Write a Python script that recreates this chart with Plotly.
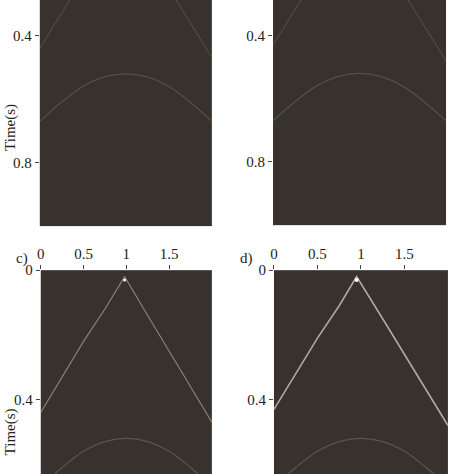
import plotly.graph_objects as go

# offsets (km) et temps (s)
offsets = [0, 0.25, 0.5, 0.75, 1.0, 1.25, 1.5, 1.75, 2.0]
direct_c_x = [0, 0.25, 0.5, 0.75, 0.98, 1.25, 1.5, 1.75, 2.0]
direct_c_t = [0.44, 0.33, 0.22, 0.12, 0.02, 0.14, 0.25, 0.36, 0.47]
direct_d_x = [0, 0.25, 0.5, 0.75, 0.95, 1.25, 1.5, 1.75, 2.0]
direct_d_t = [0.43, 0.32, 0.21, 0.11, 0.02, 0.15, 0.26, 0.37, 0.48]
reflect_t = [0.67, 0.61, 0.56, 0.53, 0.52, 0.53, 0.56, 0.61, 0.67]
xticks = [0, 0.5, 1, 1.5]

BG = "#38322e"
FONT = dict(family="Liberation Serif", size=15, color="#222")

fig = go.Figure()

panels = [
    # (xaxis, yaxis, dx, dt, couleur directe, largeur, couleur reflexion)
    ("x", "y", direct_c_x, direct_c_t, "rgba(95,90,82,0.8)", 1.0, "rgba(92,86,76,0.8)"),
    ("x2", "y2", direct_d_x, direct_d_t, "rgba(95,90,82,0.8)", 1.0, "rgba(92,86,76,0.8)"),
    ("x3", "y3", direct_c_x, direct_c_t, "rgba(160,155,145,0.75)", 1.2, "rgba(100,94,84,0.8)"),
    ("x4", "y4", direct_d_x, direct_d_t, "rgba(195,190,182,0.85)", 1.6, "rgba(100,94,84,0.8)"),
]
for xa, ya, dx, dt, cd, wd, cr in panels:
    fig.add_trace(go.Scatter(x=dx, y=dt, xaxis=xa, yaxis=ya, mode="lines",
                             line=dict(color=cd, width=wd), showlegend=False))
    fig.add_trace(go.Scatter(x=offsets, y=reflect_t, xaxis=xa, yaxis=ya, mode="lines",
                             line=dict(color=cr, width=1.2, shape="spline"), showlegend=False))

# petit point brillant a l'apex
fig.add_trace(go.Scatter(x=[direct_c_x[4]], y=[direct_c_t[4] + 0.01], xaxis="x3", yaxis="y3", mode="markers",
                         marker=dict(color="white", size=3), showlegend=False))
fig.add_trace(go.Scatter(x=[direct_d_x[4]], y=[direct_d_t[4] + 0.01], xaxis="x4", yaxis="y4", mode="markers",
                         marker=dict(color="white", size=4), showlegend=False))

xdom = [[0.084, 0.447], [0.576, 0.941], [0.086, 0.447], [0.578, 0.945]]
ydom = [[0.523, 1.0], [0.525, 1.0], [0.0, 0.430], [0.0, 0.430]]
yr = [[1.0, 0.2875], [1.0, 0.2875], [0.63, 0.0], [0.63, 0.0]]
layout = {}
for i in range(4):
    s = "" if i == 0 else str(i + 1)
    layout["xaxis" + s] = dict(domain=xdom[i], range=[0, 2.0], anchor="y" + s, side="top",
                               tickvals=xticks if i >= 2 else [], ticks="outside" if i >= 2 else "",
                               ticklen=4, showgrid=False, zeroline=False, tickfont=FONT, automargin=False)
    layout["yaxis" + s] = dict(domain=ydom[i], range=yr[i], anchor="x" + s,
                               tickvals=[0, 0.4, 0.8], ticktext=["0", "0.4", "0.8"],
                               ticks="outside", ticklen=4, showgrid=False, zeroline=False, tickfont=FONT,
                               automargin=False)
fig.update_layout(**layout)

fig.update_layout(
    width=474, height=474, margin=dict(l=0, r=0, t=0, b=0),
    paper_bgcolor="white", plot_bgcolor=BG,
    annotations=[
        dict(text="Time(s)", x=0.0, y=0.785, xref="paper", yref="paper", textangle=-90,
             showarrow=False, font=FONT, xanchor="left"),
        dict(text="Time(s)", x=0.0, y=0.035, xref="paper", yref="paper", textangle=-90,
             showarrow=False, font=FONT, xanchor="left"),
        dict(text="c)", x=0.03, y=0.455, xref="paper", yref="paper", showarrow=False, font=FONT),
        dict(text="d)", x=0.52, y=0.455, xref="paper", yref="paper", showarrow=False, font=FONT),
    ],
)

fig.write_html("out.html", config={"displayModeBar": False},
               post_script="document.body.style.margin='0';")
